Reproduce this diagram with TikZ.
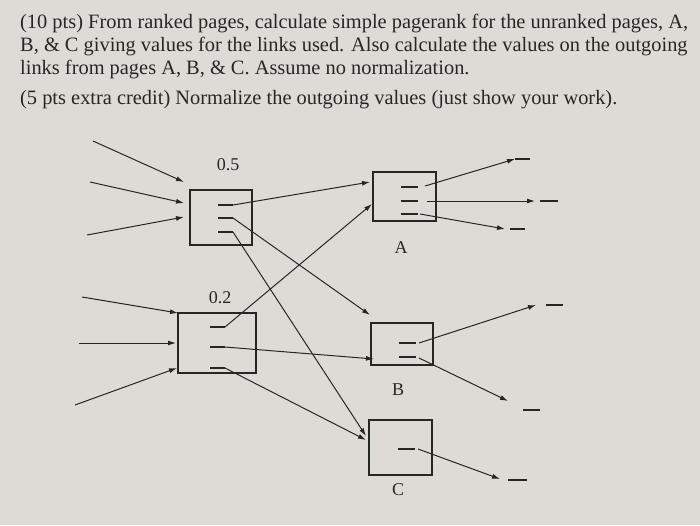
\documentclass[tikz,border=0pt]{standalone}
\usepackage{fontspec}
\setmainfont{Liberation Serif}
\usetikzlibrary{arrows.meta}
\begin{document}
\begin{tikzpicture}[x=1pt,y=-1pt,
  page/.style={draw=black!85,line width=1.1pt,inner sep=0pt},
  arr/.style={draw=black!85,line width=1pt,-{Latex[length=8pt,width=5pt]}},
  dsh/.style={draw=black!85,line width=1.1pt},
  txt/.style={anchor=base west,inner sep=0pt,font=\fontsize{20.4}{22}\selectfont,text=black!85},
  lbl/.style={inner sep=0pt,font=\fontsize{18}{20}\selectfont,text=black!85}]
\fill[fill={rgb,255:red,222;green,219;blue,214}] (0,0) rectangle (700,525);
\useasboundingbox (0,0) rectangle (700,525);
\node[txt] (t1) at (20,28) {(10 pts) From ranked pages, calculate simple pagerank for the unranked pages, A,};
\node[txt] (t2) at (20,51) {B, \& C giving values for the links used. Also calculate the values on the outgoing};
\node[txt] (t3) at (20,74) {links from pages A, B, \& C. Assume no normalization.};
\node[txt] (t4) at (20,104) {(5 pts extra credit) Normalize the outgoing values (just show your work).};
% boxes
\node[page,minimum width=62pt,minimum height=55pt] (p1) at (221,217.5) {};
\node[page,minimum width=78pt,minimum height=60pt] (p2) at (217,343) {};
\node[page,minimum width=63pt,minimum height=49pt] (a) at (404.5,196.5) {};
\node[page,minimum width=62pt,minimum height=42pt] (b) at (402,344) {};
\node[page,minimum width=63pt,minimum height=55pt] (c) at (400.5,447.5) {};
\node[lbl] (l1) at (228,165) {0.5};
\node[lbl] (l2) at (220,298) {0.2};
\node[lbl] (la) at (401,248) {A};
\node[lbl] (lb) at (398,390) {B};
\node[lbl] (lc) at (398,490) {C};
% dashes
\foreach \n/\xa/\xb/\y in {p1a/218/233/205,p1b/218/233/218,p1c/218/233/232,
  p2a/210/225/327,p2b/210/225/347,p2c/210/225/368,
  aa/401/418/187,ab/401/418/201,ac/401/418/214,
  ba/399/416/343,bb/399/416/357,ca/398/415/449,
  oa1/515/530/159,oa2/540/558/201,oa3/510/525/229,ob1/546/563/305,ob2/523/540/410,oc1/508/527/480}
  {\coordinate (\n s) at (\xa,\y); \coordinate (\n) at (\xb,\y); \draw[dsh] (\n s) -- (\n);}
% free ends
\coordinate (i1) at (93,141); \coordinate (i1e) at (184,182);
\coordinate (i2) at (90,182); \coordinate (i2e) at (184,203);
\coordinate (i3) at (87,235); \coordinate (i3e) at (184,217);
\coordinate (j1) at (82,297); \coordinate (j1e) at (178,313);
\coordinate (j2) at (79,343); \coordinate (j2e) at (176,343);
\coordinate (j3) at (75,405); \coordinate (j3e) at (177,368);
\draw[arr] (i1) -- (i1e); \draw[arr] (i2) -- (i2e); \draw[arr] (i3) -- (i3e);
\draw[arr] (j1) -- (j1e); \draw[arr] (j2) -- (j2e); \draw[arr] (j3) -- (j3e);
% internal links
\draw[arr] (p1a) -- (370,182);
\draw[arr] (p1b) -- (370,315);
\draw[arr] (p1c) -- (366,436);
\draw[arr] (p2a) -- (372,204);
\draw[arr] (p2b) -- (374,359);
\draw[arr] (p2c) -- (366,440);
% outgoing
\draw[arr] (aa) ++(7,-1) -- (oa1s);
\draw[arr] (ab) ++(9,0) -- ([xshift=-5pt]oa2s);
\draw[arr] (ac) ++(2,0) -- ([xshift=-5pt]oa3s);
\draw[arr] (ba) ++(3,0) -- ([xshift=-10pt]ob1s);
\draw[arr] (bb) ++(3,1) -- (508,401);
\draw[arr] (ca) ++(3,0) -- (500,479);
\end{tikzpicture}
\end{document}
